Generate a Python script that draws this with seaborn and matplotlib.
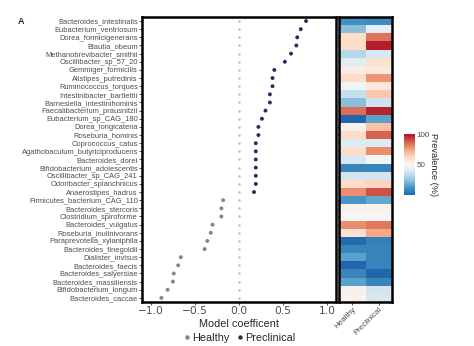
import numpy as np
import pandas as pd
import matplotlib
matplotlib.use("Agg")
import matplotlib.pyplot as plt
import seaborn as sns
from matplotlib.colors import LinearSegmentedColormap, TwoSlopeNorm
from matplotlib.lines import Line2D

species = [
    "Bacteroides_intestinalis", "Eubacterium_ventriosum", "Dorea_formicigenerans",
    "Blautia_obeum", "Methanobrevibacter_smithii", "Oscillibacter_sp_57_20",
    "Gemmiger_formicilis", "Alistipes_putredinis", "Ruminococcus_torques",
    "Intestinibacter_bartlettii", "Barnesiella_intestinihominis",
    "Faecalibacterium_prausnitzii", "Eubacterium_sp_CAG_180", "Dorea_longicatena",
    "Roseburia_hominis", "Coprococcus_catus", "Agathobaculum_butyriciproducens",
    "Bacteroides_dorei", "Bifidobacterium_adolescentis", "Oscillibacter_sp_CAG_241",
    "Odoribacter_splanchnicus", "Anaerostipes_hadrus", "Firmicutes_bacterium_CAG_110",
    "Bacteroides_stercoris", "Clostridium_spiroforme", "Bacteroides_vulgatus",
    "Roseburia_inulinivorans", "Paraprevotella_xylaniphila", "Bacteroides_finegoldii",
    "Dialister_invisus", "Bacteroides_faecis", "Bacteroides_salyersiae",
    "Bacteroides_massiliensis", "Bifidobacterium_longum", "Bacteroides_caccae",
]
coef = [0.76, 0.70, 0.66, 0.65, 0.59, 0.52, 0.40, 0.38, 0.38, 0.35, 0.35, 0.30,
        0.26, 0.22, 0.22, 0.19, 0.19, 0.19, 0.19, 0.19, 0.19, 0.17,
        -0.18, -0.20, -0.20, -0.30, -0.32, -0.36, -0.39, -0.66, -0.69, -0.74,
        -0.75, -0.81, -0.88]
prev_healthy = [24, 32, 62, 62, 38, 45, 55, 62, 48, 40, 32, 85, 16, 53, 62, 44, 62,
                43, 22, 42, 62, 79, 25, 52, 51, 79, 60, 17, 22, 27, 16, 22, 27, 53, 52]
prev_preclinical = [23, 46, 84, 99, 43, 60, 57, 78, 57, 67, 41, 98, 27, 68, 87, 44, 79,
                    49, 22, 42, 64, 90, 28, 52, 51, 83, 74, 21, 22, 22, 22, 16, 22, 42, 43]
groups = ["Healthy", "Preclinical"]
x_ticks = [-1.0, -0.5, 0.0, 0.5, 1.0]

sns.set_theme(style="white")
plt.rcParams["font.family"] = ["Liberation Sans", "DejaVu Sans"]

navy = "#2b2d5e"
grey = "#858585"
light = "#b8b8b8"

df = pd.DataFrame({"species": species, "coef": coef})
df["group"] = np.where(df["coef"] > 0, "Preclinical", "Healthy")
df_zero = pd.DataFrame({"species": species, "coef": [0.0] * len(species)})

fig = plt.figure(figsize=(4.74, 3.46), dpi=100)
ax = fig.add_axes([0.2996, 0.1272, 0.4093, 0.8237])
hax = fig.add_axes([0.7152, 0.1272, 0.1118, 0.8237])
cax = fig.add_axes([0.8513, 0.4355, 0.0232, 0.1763])

sns.scatterplot(data=df_zero, x="coef", y="species", color=light, s=3,
                linewidth=0, ax=ax, legend=False)
sns.scatterplot(data=df, x="coef", y="species", hue="group",
                palette={"Healthy": grey, "Preclinical": navy}, s=8,
                linewidth=0, ax=ax, legend=False)
ax.set_xlim(-1.1, 1.1)
ax.set_ylim(len(species) - 0.5, -0.5)
ax.set_xticks(x_ticks)
ax.set_xticklabels([f"{v:.1f}".replace("-", "\u2212") for v in x_ticks],
                   fontsize=7.7, color="#4d4d4d", family="DejaVu Sans")
ax.tick_params(axis="y", labelsize=5.45, labelcolor="#4d4d4d", left=True,
               length=2, width=0.6, pad=1, color="#333333")
ax.tick_params(axis="x", bottom=True, length=2, width=0.6, pad=1, color="#333333")
ax.set_ylabel("")
ax.set_xlabel("Model coefficent", fontsize=7.8, labelpad=2)
for sp in ax.spines.values():
    sp.set_linewidth(1.8)
    sp.set_color("black")

heat = pd.DataFrame({"Healthy": prev_healthy, "Preclinical": prev_preclinical},
                    index=species)
cmap = LinearSegmentedColormap.from_list(
    "rb", ["#2166ac", "#4393c3", "#92c5de", "#d1e5f0", "#f7f7f7",
           "#fddbc7", "#f4a582", "#d6604d", "#b2182b"])
norm = TwoSlopeNorm(vmin=16, vcenter=50, vmax=100)
sns.heatmap(heat, ax=hax, cmap=cmap, norm=norm, cbar_ax=cax,
            yticklabels=False, xticklabels=groups)
hax.set_yticks(np.arange(len(species)) + 0.5)
hax.tick_params(axis="y", left=True, length=2, width=0.6, color="#333333")
hax.tick_params(axis="x", bottom=True, length=2, width=0.6, color="#333333", pad=1)
for lab in hax.get_xticklabels():
    lab.set_rotation(45)
    lab.set_ha("right")
    lab.set_va("top")
    lab.set_rotation_mode("anchor")
    lab.set_fontsize(5.8)
    lab.set_color("#4d4d4d")
hax.set_ylabel("")
hax.set_xlabel("")
for sp in hax.spines.values():
    sp.set_visible(True)
    sp.set_linewidth(1.8)
    sp.set_color("black")

cb = hax.collections[0].colorbar
cb.set_ticks([50, 100])
cb.ax.tick_params(labelsize=5.8, length=0, pad=1.5, labelcolor="#4d4d4d")
cb.outline.set_visible(False)
cb.set_label("Prevalence (%)", rotation=270, fontsize=6.6, labelpad=6)

handles = [Line2D([], [], marker="o", linestyle="", color=grey, markersize=2.2),
           Line2D([], [], marker="o", linestyle="", color=navy, markersize=2.2)]
fig.legend(handles, groups, loc="center", bbox_to_anchor=(239 / 474, 1 - 338 / 346),
           ncol=2, frameon=False, fontsize=7.8, handletextpad=0.1,
           columnspacing=0.5, handlelength=0.8)

fig.text(18 / 474, 1 - 21 / 346, "A", fontsize=6.5, fontweight="bold", va="center")

fig.savefig("out.png", dpi=100)
